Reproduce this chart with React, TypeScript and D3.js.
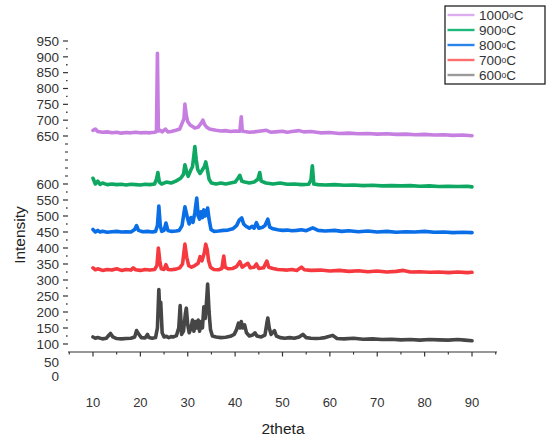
import * as d3 from "d3";
import React from "react";

// XRD patterns, [2theta, intensity]
const s600: [number, number][] = [
  [10,122],[10.5,118],[11,120],[12,116],[12.8,118],[13.4,128],[13.7,133],[14.2,122],[15,117],[16,116],[17,117],[18,118],[18.8,122],[19.2,142],[19.6,132],[20.2,120],[21,119],[21.5,130],[21.8,120],[22.5,118],[23.2,120],[23.6,150],[23.9,270],[24.1,200],[24.3,230],[24.6,135],[25,122],[25.5,124],[26,120],[26.5,123],[27,122],[27.6,126],[28.1,150],[28.4,220],[28.7,130],[29.1,140],[29.5,195],[29.7,212],[30,160],[30.3,135],[30.7,150],[31,175],[31.3,140],[31.6,170],[31.9,150],[32.2,175],[32.5,140],[32.8,170],[33.1,150],[33.4,216],[33.7,180],[34,240],[34.2,287],[34.5,200],[34.8,145],[35.2,125],[36,122],[37,120],[38,121],[39,124],[39.8,130],[40.3,145],[40.7,165],[41,150],[41.3,170],[41.6,150],[42,160],[42.4,135],[43,125],[43.7,128],[44.2,135],[44.6,125],[45.5,122],[46.3,128],[46.7,165],[46.9,181],[47.2,150],[47.6,130],[48.3,142],[48.7,125],[49.5,120],[50.5,118],[51.5,120],[52.5,118],[53.5,122],[54.3,130],[55,120],[56,118],[57,117],[58,118],[59,120],[60.6,127],[61.5,117],[63,116],[65,118],[67,115],[69,116],[71,114],[73,115],[75,113],[77,114],[79,112],[81,114],[83,113],[85,112],[87,114],[88.5,112],[90,110]
];
const s700: [number, number][] = [
  [10,338],[10.5,332],[11,335],[12,330],[13,333],[14,331],[15,335],[16,330],[17,333],[18,331],[18.5,338],[19,332],[20,330],[21,333],[22,331],[23,333],[23.5,345],[23.8,400],[24.1,360],[24.4,335],[25,333],[25.4,348],[25.8,333],[26.5,332],[27.5,334],[28.3,338],[28.9,350],[29.4,412],[29.8,370],[30.2,345],[30.8,340],[31.5,345],[32.2,352],[32.6,373],[33,360],[33.5,385],[33.8,412],[34.1,395],[34.4,360],[34.8,340],[35.5,333],[36.5,332],[37.2,336],[37.6,375],[37.9,340],[38.5,335],[39.5,336],[40.3,342],[41,357],[41.5,340],[42,345],[42.7,352],[43.2,338],[44,340],[44.5,350],[45,336],[46,338],[46.7,359],[47.1,340],[48,336],[49,333],[50,332],[51,331],[52,333],[53,330],[54,340],[54.6,332],[56,330],[58,331],[60,328],[62,330],[64,327],[66,329],[68,326],[70,328],[72,325],[74,327],[75.5,330],[77,325],[79,326],[81,324],[83,325],[85,323],[87,325],[89,323],[90,324]
];
const s800: [number, number][] = [
  [10,458],[10.5,450],[11,455],[11.5,450],[12,452],[13,449],[14,451],[15,452],[16,450],[17,451],[18,450],[18.8,458],[19.2,470],[19.6,455],[20.5,451],[21.5,452],[22.5,450],[23.2,452],[23.6,470],[23.9,531],[24.2,470],[24.5,452],[25,455],[25.4,478],[25.8,455],[26.5,452],[27.5,453],[28.2,455],[28.8,470],[29.4,529],[29.7,510],[30,490],[30.3,475],[30.7,495],[31.1,480],[31.5,510],[31.9,556],[32.2,500],[32.5,490],[32.8,513],[33.1,495],[33.4,519],[33.7,500],[34,515],[34.2,525],[34.5,490],[34.9,458],[35.5,452],[36.5,453],[37.5,455],[38.5,456],[39.5,460],[40.3,470],[40.9,488],[41.4,494],[41.8,475],[42.3,468],[43,462],[43.6,468],[44,462],[44.5,479],[45,462],[45.8,465],[46.3,470],[46.9,490],[47.3,465],[48,460],[49,457],[50,455],[51,456],[52,454],[53,455],[54,457],[55,454],[56.4,463],[57.5,455],[59,453],[61,455],[62.5,452],[64,454],[66,451],[68,453],[70,450],[72,452],[74,449],[76,451],[78,450],[80,452],[82,449],[84,450],[86,448],[88,449],[90,448]
];
const s900: [number, number][] = [
  [10,606],[10.5,600],[11,603],[11.5,599],[12,601],[13,598],[14,600],[15,598],[16,599],[17,597],[18,599],[19,598],[20,597],[21,599],[22,598],[23,600],[23.4,605],[23.7,612],[24,602],[24.5,600],[25.5,602],[26.5,601],[27.5,603],[28.5,606],[29.1,610],[29.4,620],[29.8,612],[30.1,608],[30.6,614],[31,618],[31.3,630],[31.5,639],[31.8,625],[32.1,615],[32.6,611],[33,614],[33.5,618],[33.8,623],[34.1,616],[34.5,605],[35,601],[36,600],[37,601],[38,600],[39,601],[40,602],[40.6,606],[41,609],[41.4,603],[42,602],[43,601],[44,602],[44.8,605],[45.2,612],[45.5,603],[46.5,601],[48,600],[49.5,601],[51,599],[52.5,600],[54,598],[55.5,599],[56,604],[56.3,619],[56.6,600],[57.5,598],[59,597],[61,598],[63,596],[65,597],[67,595],[69,596],[71,594],[73,595],[75,594],[77,595],[79,593],[81,594],[83,592],[85,593],[87,592],[89,593],[90,591]
];
const s1000: [number, number][] = [
  [10,668],[10.5,672],[11,664],[12,662],[13,663],[14,660],[15,662],[16,659],[17,661],[18,660],[19,662],[20,660],[21,661],[22,660],[23,662],[23.4,664],[23.6,911],[23.8,666],[24.2,668],[24.6,663],[25.3,672],[25.8,663],[26.5,664],[27.5,668],[28.3,672],[28.8,690],[29.2,705],[29.4,751],[29.7,715],[30,695],[30.5,685],[31,680],[31.5,675],[32.2,678],[32.8,690],[33.2,700],[33.6,685],[34,678],[34.6,672],[35.3,670],[36,668],[37,666],[38,667],[39,664],[40,666],[41,665],[41.3,711],[41.5,666],[42,664],[43,662],[44,663],[45,665],[46.6,668],[47.5,662],[48.5,663],[50,665],[51,662],[52,664],[53.5,667],[54.5,663],[56,664],[58,660],[60,661],[62,658],[64,659],[66,657],[68,658],[70,656],[72,657],[74,655],[76,656],[78,654],[80,655],[82,653],[84,654],[86,652],[88,653],[90,651]
];

const seriesNames = ["1000", "900", "800", "700", "600"];
const seriesData = [s1000, s900, s800, s700, s600];
const lineColors = ["#c67fe0", "#0fa862", "#0a6ee6", "#f5393f", "#464646"];
const legendColors = ["#dcaef0", "#1db87a", "#2a85ea", "#ff6e6e", "#9a9a9a"];

const xTicks = [10, 20, 30, 40, 50, 60, 70, 80, 90];
const xMinor = [5, 15, 25, 35, 45, 55, 65, 75, 85, 95];
const yTicksLow = [100, 150, 200, 250, 300, 350, 400, 450, 500, 550, 600];
const yTicksHigh = [650, 700, 750, 800, 850, 900, 950];
const yLabelsBelow = [0, 50];

const W = 550;
const H = 438;
const font = "'Liberation Sans', Arial, sans-serif";

const App = () => {
  const x = d3.scaleLinear().domain([5, 95]).range([69.3, 495.7]);
  // broken axis: 0-600 and 650-950, with a stretched gap between
  const y = d3.scaleLinear().domain([0, 600, 650, 950]).range([376, 184, 136, 41]);
  const line = d3
    .line<[number, number]>()
    .x((d) => x(d[0]))
    .y((d) => y(d[1]));

  const axisY = 352;
  const minorY = [
    ...d3.range(125, 600, 50),
    ...d3.range(675, 950, 50),
  ];
  const gapY = d3.range(1, 6).map((k) => y(600) + ((y(650) - y(600)) * k) / 6);

  return (
    <svg width={W} height={H} style={{ position: "absolute", left: 0, top: 0, background: "#fff" }} fontFamily={font}>
      {/* y ticks */}
      {[...yTicksLow, ...yTicksHigh].map((t) => (
        <g key={"yt" + t}>
          <line x1={63} x2={68} y1={y(t)} y2={y(t)} stroke="#333" strokeWidth={1.2} />
          <text x={59} y={y(t) + 4.7} textAnchor="end" fontSize={13.5} fill="#333">{t}</text>
        </g>
      ))}
      {yLabelsBelow.map((t) => (
        <text key={"yb" + t} x={59} y={y(t) + 4.7 - (t === 50 ? -2 : 0)} textAnchor="end" fontSize={13.5} fill="#333">{t}</text>
      ))}
      {minorY.map((t) => (
        <line key={"ym" + t} x1={66} x2={67.6} y1={y(t)} y2={y(t)} stroke="#444" strokeWidth={1.3} />
      ))}
      {gapY.map((v, i) => (
        <line key={"yg" + i} x1={65} x2={68} y1={v} y2={v} stroke="#444" strokeWidth={1.2} />
      ))}
      <text transform="translate(25,235) rotate(-90)" textAnchor="middle" fontSize={15.5} fill="#222">Intensity</text>

      {/* x axis */}
      <line x1={68} x2={497} y1={axisY} y2={axisY} stroke="#333" strokeWidth={1.2} />
      {xTicks.map((t) => (
        <g key={"xt" + t}>
          <line x1={x(t)} x2={x(t)} y1={axisY} y2={axisY + 4.5} stroke="#333" strokeWidth={1.2} />
          <text x={x(t)} y={407} textAnchor="middle" fontSize={13} fill="#333">{t}</text>
        </g>
      ))}
      {xMinor.map((t) => (
        <line key={"xm" + t} x1={x(t)} x2={x(t)} y1={axisY} y2={axisY + 2.5} stroke="#333" strokeWidth={1.1} />
      ))}
      <text x={283} y={434} textAnchor="middle" fontSize={15.5} fill="#222">2theta</text>

      {/* patterns */}
      {seriesData.map((d, i) => (
        <path key={"s" + i} d={line(d) || ""} fill="none" stroke={lineColors[i]} strokeWidth={3.6} strokeLinejoin="round" strokeLinecap="round" />
      ))}

      {/* legend */}
      <rect x={445} y={6} width={100} height={78} fill="#fff" stroke="#222" strokeWidth={1.3} />
      {seriesNames.map((n, i) => (
        <g key={"lg" + n} transform={`translate(0,${15 + i * 15})`}>
          <line x1={447.5} x2={474.5} y1={0} y2={0} stroke={legendColors[i]} strokeWidth={2.4} />
          <text x={479} y={5} fontSize={13.5} fill="#333">
            {n}
            <tspan fontSize={8.5} dy={-2.5}>o</tspan>
            <tspan dy={2.5}>C</tspan>
          </text>
        </g>
      ))}
    </svg>
  );
};

export default App;
